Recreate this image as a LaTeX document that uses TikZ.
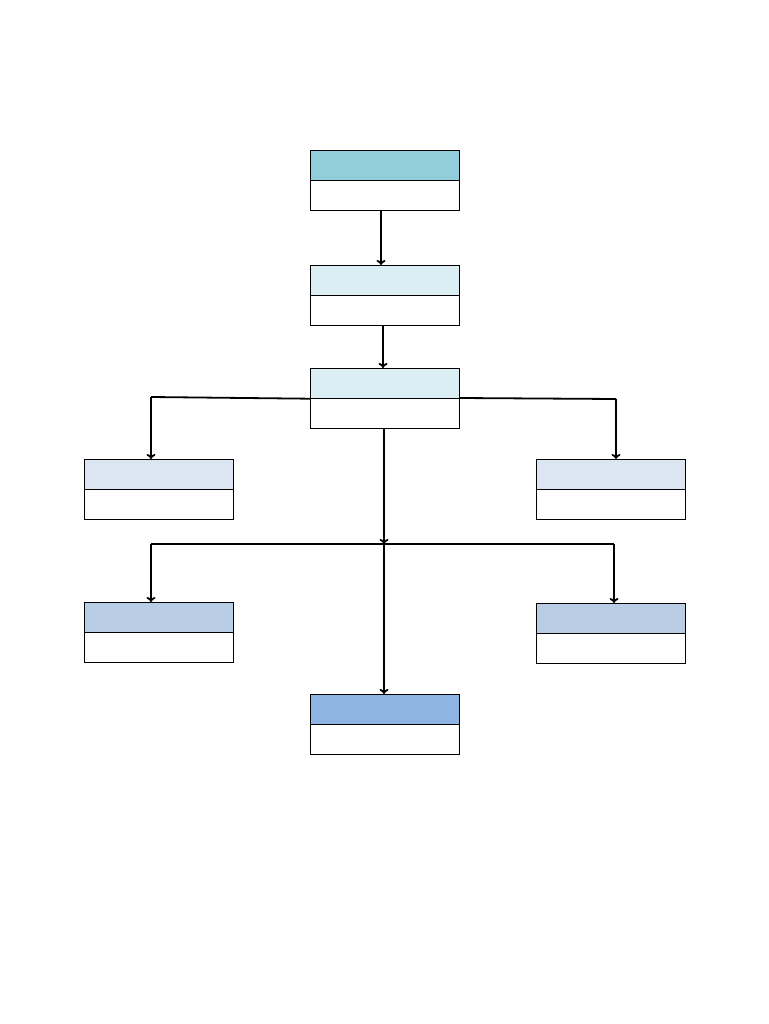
\documentclass[tikz,border=0pt]{standalone}
\usetikzlibrary{arrows.meta}
\definecolor{cA}{HTML}{92CDDC}
\definecolor{cB}{HTML}{DAEEF3}
\definecolor{cC}{HTML}{DCE6F2}
\definecolor{cD}{HTML}{B9CDE5}
\definecolor{cE}{HTML}{8DB4E2}
\begin{document}
\begin{tikzpicture}[x=1pt,y=-1pt,
  hdr/.style={draw=black,line width=0.7pt,minimum width=149pt,minimum height=30pt,inner sep=0pt,anchor=north west},
  bdy/.style={draw=black,fill=white,line width=0.7pt,minimum width=149pt,minimum height=30pt,inner sep=0pt,anchor=north west},
  conn/.style={line width=1.8pt},
  arr/.style={line width=1.8pt,-{To[length=5pt,width=9pt,line width=1.8pt]}}]
\useasboundingbox (0,0) rectangle (768,1024);
\node[hdr,fill=cA] (h1) at (310,150) {}; \node[bdy] (b1) at (310,180) {};
\node[hdr,fill=cB] (h2) at (310,265) {}; \node[bdy] (b2) at (310,295) {};
\node[hdr,fill=cB] (h3) at (310,368) {}; \node[bdy] (b3) at (310,398) {};
\node[hdr,fill=cC] (h4) at (84,459) {}; \node[bdy] (b4) at (84,489) {};
\node[hdr,fill=cC] (h5) at (536,459) {}; \node[bdy] (b5) at (536,489) {};
\node[hdr,fill=cD] (h6) at (84,602) {}; \node[bdy] (b6) at (84,632) {};
\node[hdr,fill=cD] (h7) at (536,603) {}; \node[bdy] (b7) at (536,633) {};
\node[hdr,fill=cE] (h8) at (310,694) {}; \node[bdy] (b8) at (310,724) {};
\coordinate (j1) at (151,397);
\coordinate (j2) at (616,399);
\coordinate (jm) at (384,544);
\coordinate (jl) at (151,544);
\coordinate (jr) at (614,544);
\draw[arr] (b1.south -| 381,0) -- (h2.north -| 381,0);
\draw[arr] (b2.south -| 383,0) -- (h3.north -| 383,0);
\draw[conn] (h3.south west) -- (j1);
\draw[arr] (j1) -- (h4.north -| j1);
\draw[conn] (b3.north east) -- (j2);
\draw[arr] (j2) -- (h5.north -| j2);
\draw[arr] (b3.south -| jm) -- (h8.north -| jm);
\draw[arr] (b3.south -| jm) -- (jm);
\draw[conn] (jl) -- (jr);
\draw[arr] (jl) -- (h6.north -| jl);
\draw[arr] (jr) -- (h7.north -| jr);
\end{tikzpicture}
\end{document}
